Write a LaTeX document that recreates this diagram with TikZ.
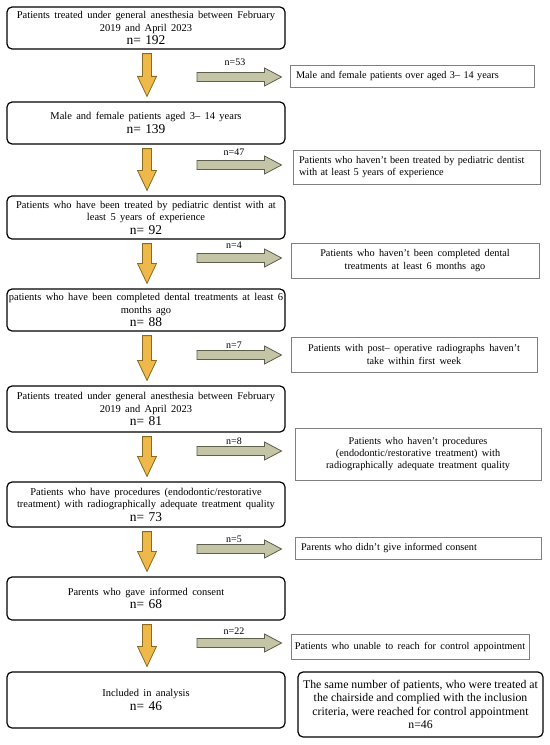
\documentclass[tikz,border=0pt]{standalone}
\usepackage{fontspec}
\setmainfont{Liberation Serif}
\usetikzlibrary{calc}
\definecolor{ygold}{HTML}{EEB84A}
\definecolor{yedge}{HTML}{8A6A1E}
\definecolor{gfill}{HTML}{C4C4A7}
\definecolor{gedge}{HTML}{5E5E4C}
\definecolor{bxgray}{HTML}{808080}
\newcommand\nbig[1]{{\fontsize{13.5}{13.5}\selectfont #1}}
\newcommand\widesp{\spaceskip=0.42em plus 0.1em}
\begin{document}
\begin{tikzpicture}[x=1bp,y=-1bp,
  mainbox/.style={draw=black, line width=1.2bp, rounded corners=5bp, minimum width=278bp,
    align=center, inner sep=1.5bp, font=\fontsize{10.5}{12.5}\selectfont\widesp},
  greybox/.style={draw=bxgray, line width=0.9bp, inner xsep=6bp, inner ysep=2bp,
    font=\fontsize{10.3}{12.5}\selectfont\widesp},
  lbl/.style={font=\fontsize{10}{11}\selectfont, inner sep=0pt},
  yarrow/.style={fill=ygold, draw=yedge, line width=0.8bp, line join=miter},
  garrow/.style={fill=gfill, draw=gedge, line width=0.8bp, line join=miter},
  fatv/.style={to path={let \p1=(\tikztostart), \p2=(\tikztotarget) in
    (\x1-3.5bp,\y1-4bp) -- (\x1+5.5bp,\y1-4bp) -- (\x1+5.5bp,\y2+25bp) -- (\x1+10.5bp,\y2+25bp)
    -- (\x1+1bp,\y2+5bp) -- (\x1-8.5bp,\y2+25bp) -- (\x1-3.5bp,\y2+25bp) -- cycle}},
  fath/.style={to path={let \p1=(\tikztostart), \p2=(\tikztotarget) in
    (\x1,\y1+4.5bp) -- (\x2-25bp,\y1+4.5bp) -- (\x2-25bp,\y1+9bp) -- (\x2-8bp,\y1)
    -- (\x2-25bp,\y1-9bp) -- (\x2-25bp,\y1-4.5bp) -- (\x1,\y1-4.5bp) -- cycle}}
]
\useasboundingbox (0,0) rectangle (550,745);

% main column
\node[mainbox, minimum height=42bp] (b1) at (146,28)
  {Patients treated under general anesthesia between February\\ 2019 and April 2023\\[1pt] \nbig{n= 192}};
\node[mainbox, minimum height=42bp] (b2) at (146,123)
  {Male and female patients aged 3– 14 years\\[1pt] \nbig{n= 139}};
\node[mainbox, minimum height=43bp] (b3) at (146,217.5)
  {Patients who have been treated by pediatric dentist with at\\ least 5 years of experience\\[1pt] \nbig{n= 92}};
\node[mainbox, minimum height=42bp] (b4) at (146,310)
  {patients who have been completed dental treatments at least 6\\ months ago\\[1pt] \nbig{n= 88}};
\node[mainbox, minimum height=46bp] (b5) at (146,409)
  {Patients treated under general anesthesia between February\\ 2019 and April 2023\\[1pt] \nbig{n= 81}};
\node[mainbox, minimum height=45bp] (b6) at (146,504.5)
  {Patients who have procedures (endodontic/restorative\\ treatment) with radiographically adequate treatment quality\\[1pt] \nbig{n= 73}};
\node[mainbox, minimum height=43bp] (b7) at (146,598.5)
  {Parents who gave informed consent\\[1pt] \nbig{n= 68}};
\node[mainbox, minimum height=56bp] (b8) at (146,700)
  {Included in analysis\\[1pt] \nbig{n= 46}};

% excluded boxes
\node[greybox, minimum width=244bp, minimum height=22bp, text width=232bp, align=left] (g1) at (412,76)
  {Male and female patients over aged 3– 14 years};
\node[greybox, minimum width=247bp, minimum height=34bp, text width=235bp, align=left] (g2) at (416.5,167)
  {Patients who haven't been treated by pediatric dentist\\ with at least 5 years of experience};
\node[greybox, minimum width=248bp, minimum height=35bp, align=center] (g3) at (415,260.5)
  {Patients who haven’t been completed dental\\ treatments at least 6 months ago};
\node[greybox, minimum width=246bp, minimum height=35bp, align=center] (g4) at (414,354.5)
  {Patients with post– operative radiographs haven’t\\ take within first week};
\node[greybox, minimum width=246bp, minimum height=52bp, align=center] (g5) at (418,454)
  {Patients who haven’t procedures\\ (endodontic/restorative treatment) with\\ radiographically adequate treatment quality};
\node[greybox, minimum width=246bp, minimum height=22bp, text width=234bp, align=left] (g6) at (418,548)
  {Parents who didn’t give informed consent};
\node[greybox, minimum width=238bp, minimum height=25bp, align=center, inner xsep=3bp] (g7) at (410,646.5)
  {Patients who unable to reach for control appointment};
\node[mainbox, minimum width=245bp, minimum height=65bp, font=\fontsize{11.8}{13.5}\selectfont] (rb) at (420.5,704.5)
  {The same number of patients, who were treated at\\ the chairside and complied with the inclusion\\ criteria, were reached for control appointment\\ n=46};

% downward arrows
\draw[yarrow] (b1.south) to[fatv] (b2.north);
\draw[yarrow] (b2.south) to[fatv] (b3.north);
\draw[yarrow] (b3.south) to[fatv] (b4.north);
\draw[yarrow] (b4.south) to[fatv] (b5.north);
\draw[yarrow] (b5.south) to[fatv] (b6.north);
\draw[yarrow] (b6.south) to[fatv] (b7.north);
\draw[yarrow] (b7.south) to[fatv] (b8.north);

% exclusion arrows
\coordinate (s1) at (197,77);
\coordinate (s2) at (197,165);
\coordinate (s3) at (197,258);
\coordinate (s4) at (197,355);
\coordinate (s5) at (197,451);
\coordinate (s6) at (197,549);
\coordinate (s7) at (197,643);
\draw[garrow] (s1) to[fath] (s1 -| g1.west);
\draw[garrow] (s2) to[fath] (s2 -| g1.west);
\draw[garrow] (s3) to[fath] (s3 -| g1.west);
\draw[garrow] (s4) to[fath] (s4 -| g1.west);
\draw[garrow] (s5) to[fath] (s5 -| g1.west);
\draw[garrow] (s6) to[fath] (s6 -| g1.west);
\draw[garrow] (s7) to[fath] (s7 -| g1.west);

\node[lbl] (l1) at (235,62) {n=53};
\node[lbl] (l2) at (234,152) {n=47};
\node[lbl] (l3) at (234,245) {n=4};
\node[lbl] (l4) at (234,345) {n=7};
\node[lbl] (l5) at (234,441) {n=8};
\node[lbl] (l6) at (234,539) {n=5};
\node[lbl] (l7) at (234,631) {n=22};
\end{tikzpicture}
\end{document}
